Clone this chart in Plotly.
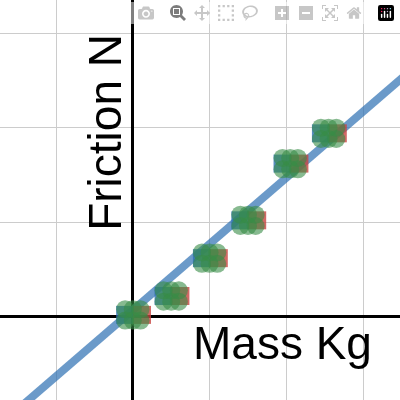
import plotly.graph_objects as go

# measured points (mass kg, friction N)
mass = [0.0, 0.5, 1.0, 1.5, 2.05, 2.55]
friction = [0.02, 0.22, 0.62, 1.02, 1.62, 1.94]
mass_blue = [-0.1, 0.4, 0.9, 1.4, 1.95, 2.45]
mass_red = [0.12, 0.62, 1.12, 1.62, 2.17, 2.67]
fit_x = [-1.8, 3.6]
fit_y = [0.07 + 0.70 * v for v in fit_x]

fig = go.Figure()
fig.add_trace(go.Scatter(x=fit_x, y=fit_y, mode="lines",
                         line=dict(color="#2d70b3", width=8), opacity=0.7))
fig.add_trace(go.Scatter(x=mass_blue, y=friction, mode="markers",
                         marker=dict(color="#2d70b3", size=18, symbol="square"), opacity=0.8))
fig.add_trace(go.Scatter(x=mass_red, y=friction, mode="markers",
                         marker=dict(color="#c74440", size=18, symbol="square"), opacity=0.8))
for dx in [-0.1, 0.0, 0.1]:
    for dy in [-0.06, 0.06]:
        fig.add_trace(go.Scatter(x=[m + dx for m in mass], y=[f + dy for f in friction],
                                 mode="markers", marker=dict(color="#388c46", size=18),
                                 opacity=0.6))

axis = dict(showgrid=True, gridcolor="#cccccc", gridwidth=1, dtick=1,
            zeroline=True, zerolinecolor="black", zerolinewidth=3,
            showticklabels=False, ticks="")
fig.update_layout(
    width=400, height=400, margin=dict(l=0, r=0, t=0, b=0),
    plot_bgcolor="white", paper_bgcolor="white", showlegend=False,
    xaxis=dict(axis, range=[-1.73, 3.48]),
    yaxis=dict(axis, range=[-0.88, 3.35]),
    font=dict(family="Liberation Sans, Arial", color="black"),
)
fig.add_annotation(text="Mass Kg", xref="paper", yref="paper", x=0.705, y=0.142,
                   xanchor="center", yanchor="middle",
                   showarrow=False, font=dict(size=46))
fig.add_annotation(text="Friction N", xref="paper", yref="paper", x=0.262, y=0.67,
                   xanchor="center", yanchor="middle",
                   showarrow=False, textangle=-90, font=dict(size=46))
fig.write_html("out.html", post_script="document.body.style.margin='0';")
